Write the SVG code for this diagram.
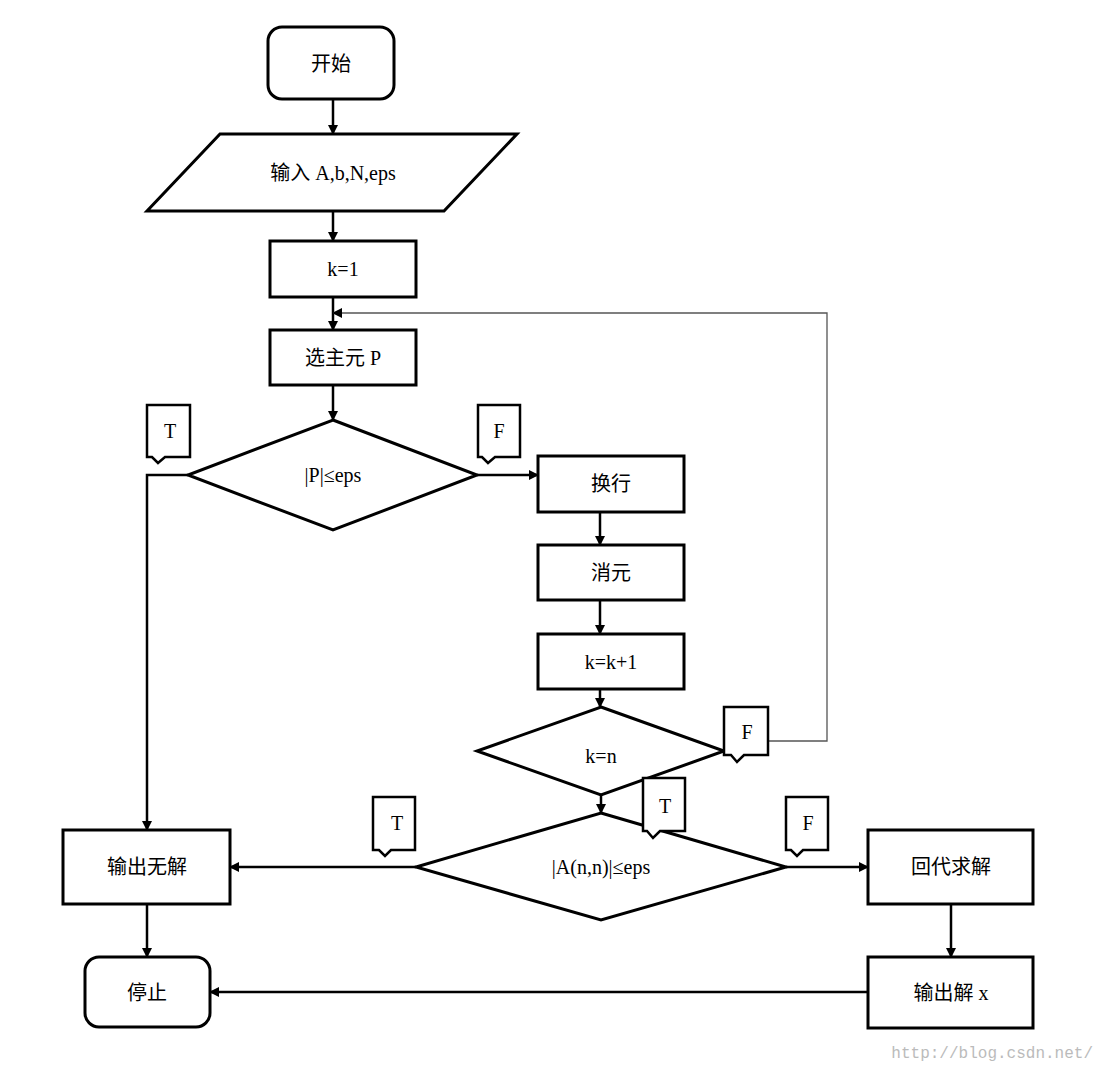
<svg xmlns="http://www.w3.org/2000/svg" width="1104" height="1078" viewBox="0 0 1104 1078">
<defs>
<marker id="a" markerWidth="10" markerHeight="10" refX="9" refY="5" orient="auto" markerUnits="userSpaceOnUse"><path d="M0,0 L10,5 L0,10 z" fill="#000"/></marker>
<style>
.s{fill:#fff;stroke:#000;stroke-width:3}
.c{fill:#fff;stroke:#000;stroke-width:2.5}
.l{fill:none;stroke:#000;stroke-width:2.5}
.t{font-family:"Liberation Serif","Noto Sans CJK SC",serif;font-size:20px;text-anchor:middle;dominant-baseline:central}
</style>
</defs>
<rect width="1104" height="1078" fill="#fff"/>
<g id="connectors">
<path class="l" d="M333,99 V134" marker-end="url(#a)"/>
<path class="l" d="M333,211 V241" marker-end="url(#a)"/>
<path class="l" d="M333,297 V330" marker-end="url(#a)"/>
<path class="l" d="M333,385 V420" marker-end="url(#a)"/>
<path class="l" d="M188,475 H147 V830" marker-end="url(#a)"/>
<path class="l" d="M477,475 H538" marker-end="url(#a)"/>
<path class="l" d="M600,512 V545" marker-end="url(#a)"/>
<path class="l" d="M600,600 V634" marker-end="url(#a)"/>
<path class="l" d="M600,689 V707" marker-end="url(#a)"/>
<path d="M768,741 H827 V313 H333" fill="none" stroke="#555" stroke-width="1.3" marker-end="url(#a)"/>
<path class="l" d="M601,795 V813" marker-end="url(#a)"/>
<path class="l" d="M416,867 H230" marker-end="url(#a)"/>
<path class="l" d="M786,867 H868" marker-end="url(#a)"/>
<path class="l" d="M951,904 V957" marker-end="url(#a)"/>
<path class="l" d="M868,992 H210" marker-end="url(#a)"/>
<path class="l" d="M147,904 V957" marker-end="url(#a)"/>
</g>
<g id="start"><rect class="s" x="268" y="27" width="126" height="72" rx="14"/><text class="t" x="331" y="64">开始</text></g>
<g id="input"><polygon class="s" points="220,134 517,134 444,211 147,211"/><text class="t" x="333" y="173">输入 A,b,N,eps</text></g>
<g id="k1"><rect class="s" x="270" y="241" width="146" height="56"/><text class="t" x="343" y="269">k=1</text></g>
<g id="pivot"><rect class="s" x="270" y="330" width="146" height="55"/><text class="t" x="343" y="358">选主元 P</text></g>
<g id="d1"><polygon class="s" points="333,420 477,475 333,530 188,475"/><text class="t" x="333" y="475">|P|≤eps</text></g>
<g id="swap"><rect class="s" x="538" y="456" width="146" height="56"/><text class="t" x="611" y="484">换行</text></g>
<g id="elim"><rect class="s" x="538" y="545" width="146" height="55"/><text class="t" x="611" y="573">消元</text></g>
<g id="kinc"><rect class="s" x="538" y="634" width="146" height="55"/><text class="t" x="611" y="662">k=k+1</text></g>
<g id="d2"><polygon class="s" points="601,707 724,751 601,795 477,751"/><text class="t" x="601" y="756">k=n</text></g>
<g id="d3"><polygon class="s" points="601,813 786,867 601,920 416,867"/><text class="t" x="601" y="867">|A(n,n)|≤eps</text></g>
<g id="nosol"><rect class="s" x="63" y="830" width="167" height="74"/><text class="t" x="147" y="867">输出无解</text></g>
<g id="back"><rect class="s" x="868" y="830" width="165" height="74"/><text class="t" x="951" y="867">回代求解</text></g>
<g id="outx"><rect class="s" x="868" y="957" width="165" height="71"/><text class="t" x="951" y="993">输出解 x</text></g>
<g id="stop"><rect class="s" x="85" y="957" width="125" height="70" rx="14"/><text class="t" x="147" y="993">停止</text></g>
<g id="labels">
<path class="c" d="M147,405 H190 V457 H165 L158,463 L152,457 H147 Z"/><text class="t" x="170" y="431">T</text>
<path class="c" d="M478,405 H520 V457 H495 L488,463 L482,457 H478 Z"/><text class="t" x="499" y="431">F</text>
<path class="c" d="M724,707 H768 V755 H744 L737,762 L731,755 H724 Z"/><text class="t" x="747" y="732">F</text>
<path class="c" d="M643,778 H685 V831 H660 L653,838 L647,831 H643 Z"/><text class="t" x="665" y="806">T</text>
<path class="c" d="M373,797 H415 V850 H391 L385,856 L379,850 H373 Z"/><text class="t" x="397" y="823">T</text>
<path class="c" d="M786,797 H828 V850 H803 L797,856 L791,850 H786 Z"/><text class="t" x="808" y="823">F</text>
</g>
<text x="1093" y="1058" font-family="Liberation Mono,monospace" font-size="16" fill="#bbb" text-anchor="end">http://blog.csdn.net/</text>
</svg>
